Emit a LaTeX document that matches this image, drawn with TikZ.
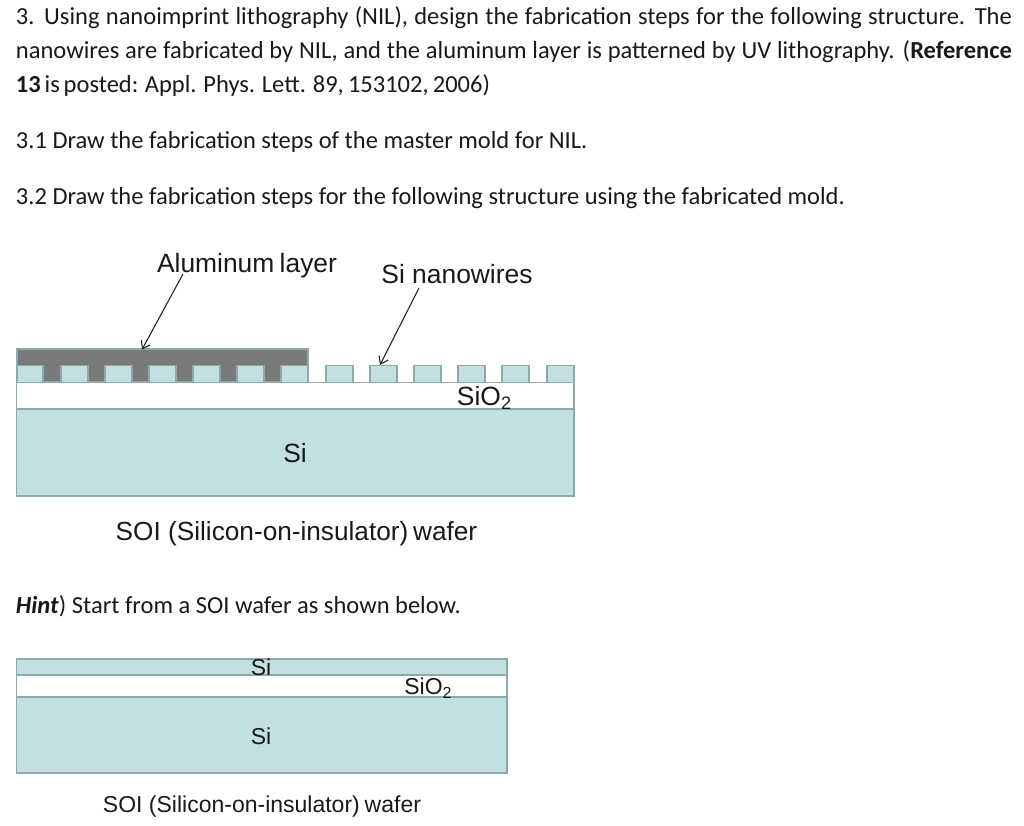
\documentclass[tikz,border=0pt]{standalone}
\usepackage{fontspec}
\setmainfont{Carlito}
\newfontfamily\arialf{Liberation Sans}
\usetikzlibrary{arrows.meta}
\definecolor{siblue}{HTML}{C2DFE1}
\definecolor{edgeg}{HTML}{8FA8AB}
\definecolor{algray}{HTML}{7A7A7A}
\newcommand{\subtwo}[2]{\raisebox{-#2pt}{\fontsize{#1}{#1}\selectfont 2}}
\tikzset{
  x=1pt,y=-1pt,
  body/.style={anchor=base west,inner sep=0,outer sep=0,font=\fontsize{24.5}{28}\selectfont,text=black!90},
  lab/.style={inner sep=0,outer sep=0,anchor=base,font=\arialf\fontsize{26.4}{30}\selectfont,text=black!90},
  labs/.style={inner sep=0,outer sep=0,anchor=base,font=\arialf\fontsize{23}{27}\selectfont,text=black!90},
  si/.style={fill=siblue,draw=edgeg,line width=1.8pt},
  ox/.style={fill=white,draw=edgeg,line width=1.8pt},
  al/.style={fill=algray,draw=edgeg,line width=1.4pt},
  lead/.style={draw=black!85,line width=1.1pt,-{Straight Barb[length=7pt,width=10pt]}}
}
\begin{document}
\begin{tikzpicture}
\useasboundingbox (0,0) rectangle (1024,826);
% text
\node[body] (t1) at (16,25) {\makebox[996pt][s]{3. Using nanoimprint lithography (NIL), design the fabrication steps for the following structure. The}};
\node[body] (t2) at (16,59) {\makebox[996pt][s]{nanowires are fabricated by NIL, and the aluminum layer is patterned by UV lithography. (\textbf{Reference}}};
\node[body] (t3) at (16,93) {\makebox[474pt][s]{\textbf{13} is posted: Appl. Phys. Lett. 89, 153102, 2006)}};
\node[body] (t4) at (16,149) {3.1 Draw the fabrication steps of the master mold for NIL.};
\node[body] (t5) at (16,205) {3.2 Draw the fabrication steps for the following structure using the fabricated mold.};
\node[body] (t6) at (16,613) {\textbf{\itshape Hint}) Start from a SOI wafer as shown below.};
% upper wafer
\draw[si] (16.5,409) rectangle (574,496);
\draw[ox] (16.5,382.5) rectangle (574,409);
\draw[al] (17,349) rectangle (308,382);
\foreach \x/\w in {17/26,61/27,105/27,149/27,193/27,237/27,281/27,326/27,370/27,414/27,458/27,502/27,547/27}
  \draw[si] (\x,365.5) rectangle ++(\w,17);
\node[lab] (al) at (247,272) {Aluminum\hspace{-2pt} layer};
\node[lab] (nw) at (457,283) {Si nanowires};
\node[lab] (ox1) at (484,405.5) {SiO\subtwo{18}{4}};
\node[lab] (si1) at (295,462) {Si};
\node[lab] (cap1) at (296.5,540) {\fontsize{26.2}{30}\selectfont SOI (Silicon-on-insulator)\hspace{-2.5pt} wafer};
\coordinate (alh) at (142,349.5);
\coordinate (nwh) at (380,365);
\coordinate (als) at (183,274);
\coordinate (nws) at (419,288);
\draw[lead] (als) -- (alh);
\draw[lead] (nws) -- (nwh);
% lower wafer
\draw[si] (16.5,659) rectangle (507,675);
\draw[ox] (16.5,675) rectangle (507,697);
\draw[si] (16.5,697) rectangle (507,773);
\node[labs] (si2) at (261,675) {Si};
\node[labs] (ox2) at (428,694) {SiO\subtwo{16}{4}};
\node[labs] (si3) at (261,744) {Si};
\node[labs] (cap2) at (262,812) {SOI (Silicon-on-insulator)\hspace{-1.5pt} wafer};
\end{tikzpicture}
\end{document}
